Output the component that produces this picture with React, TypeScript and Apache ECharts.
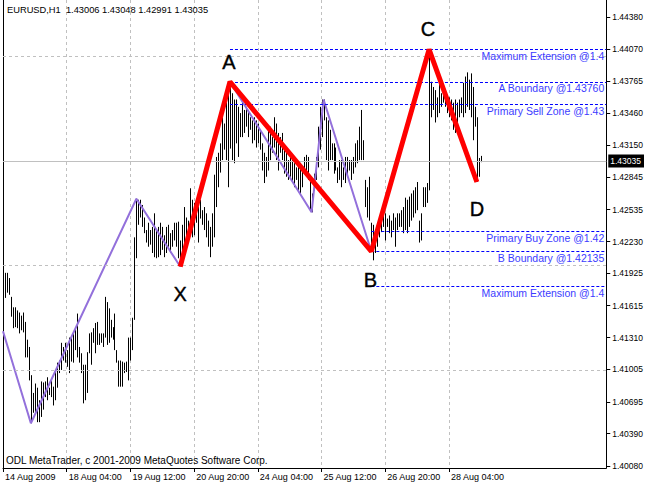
import { useEffect, useRef } from "react";
import * as echarts from "echarts";

// ---- data ----
const headerText = "EURUSD,H1  1.43006 1.43048 1.42991 1.43035";
const copyrightText = "ODL MetaTrader, c 2001-2009 MetaQuotes Software Corp.";

const xLabels = ["14 Aug 2009", "18 Aug 04:00", "19 Aug 12:00", "20 Aug 20:00", "24 Aug 04:00", "25 Aug 12:00", "26 Aug 20:00", "28 Aug 04:00"];
const xLabelBars = [0, 32, 64, 96, 128, 160, 192, 224];

const yTickLabels = ["1.44380", "1.44070", "1.43765", "1.43460", "1.43150", "1.42845", "1.42535", "1.42230", "1.41925", "1.41615", "1.41310", "1.41005", "1.40695", "1.40390", "1.40080"];

const highs = [
  1.4200, 1.4193, 1.4193, 1.4188, 1.4170, 1.4160, 1.4160, 1.4157, 1.4155, 1.4152,
  1.4155, 1.4146, 1.4129, 1.4122, 1.4095, 1.4078, 1.4087, 1.4083, 1.4071, 1.4089,
  1.4088, 1.4089, 1.4093, 1.4083, 1.4090, 1.4084, 1.4100, 1.4107, 1.4109, 1.4126,
  1.4122, 1.4126, 1.4119, 1.4131, 1.4131, 1.4136, 1.4141, 1.4154, 1.4122, 1.4116,
  1.4105, 1.4105, 1.4117, 1.4135, 1.4136, 1.4140, 1.4145, 1.4146, 1.4135, 1.4135,
  1.4135, 1.4170, 1.4165, 1.4159, 1.4148, 1.4141, 1.4154, 1.4119, 1.4109, 1.4109,
  1.4108, 1.4107, 1.4108, 1.4131, 1.4131, 1.4150, 1.4227, 1.4264, 1.4263, 1.4263,
  1.4258, 1.4246, 1.4234, 1.4241, 1.4234, 1.4237, 1.4250, 1.4234, 1.4237, 1.4241,
  1.4237, 1.4229, 1.4237, 1.4239, 1.4231, 1.4234, 1.4241, 1.4241, 1.4242, 1.4224,
  1.4239, 1.4256, 1.4246, 1.4243, 1.4274, 1.4263, 1.4260, 1.4253, 1.4256, 1.4263,
  1.4253, 1.4256, 1.4250, 1.4243, 1.4237, 1.4250, 1.4287, 1.4304, 1.4308, 1.4317,
  1.4342, 1.4336, 1.4356, 1.4365, 1.4376, 1.4365, 1.4359, 1.4359, 1.4352, 1.4346,
  1.4356, 1.4349, 1.4352, 1.4349, 1.4342, 1.4339, 1.4342, 1.4339, 1.4336, 1.4330,
  1.4317, 1.4308, 1.4304, 1.4330, 1.4333, 1.4323, 1.4342, 1.4336, 1.4327, 1.4323,
  1.4327, 1.4313, 1.4308, 1.4301, 1.4304, 1.4301, 1.4298, 1.4294, 1.4298, 1.4294,
  1.4291, 1.4304, 1.4306, 1.4304, 1.4282, 1.4269, 1.4288, 1.4304, 1.4333, 1.4352,
  1.4359, 1.4359, 1.4342, 1.4339, 1.4330, 1.4317, 1.4317, 1.4313, 1.4294, 1.4301,
  1.4301, 1.4294, 1.4304, 1.4304, 1.4301, 1.4301, 1.4304, 1.4317, 1.4320, 1.4333,
  1.4349, 1.4320, 1.4282, 1.4275, 1.4285, 1.4241, 1.4239, 1.4234, 1.4237, 1.4243,
  1.4251, 1.4255, 1.4250, 1.4245, 1.4248, 1.4243, 1.4250, 1.4246, 1.4250, 1.4250,
  1.4253, 1.4256, 1.4265, 1.4263, 1.4266, 1.4269, 1.4272, 1.4275, 1.4280, 1.4243,
  1.4250, 1.4275, 1.4275, 1.4279, 1.4407, 1.4376, 1.4371, 1.4368, 1.4361, 1.4375,
  1.4365, 1.4371, 1.4365, 1.4359, 1.4361, 1.4359, 1.4356, 1.4359, 1.4356, 1.4359,
  1.4361, 1.4375, 1.4381, 1.4385, 1.4378, 1.4384, 1.4371, 1.4352, 1.4342, 1.4303,
  1.4305,
];

const lows = [
  1.4186, 1.4169, 1.4174, 1.4172, 1.4151, 1.4140, 1.4141, 1.4140, 1.4135, 1.4138,
  1.4136, 1.4112, 1.4112, 1.4090, 1.4049, 1.4059, 1.4059, 1.4050, 1.4050, 1.4055,
  1.4062, 1.4074, 1.4071, 1.4076, 1.4074, 1.4066, 1.4071, 1.4083, 1.4097, 1.4100,
  1.4109, 1.4107, 1.4103, 1.4097, 1.4108, 1.4107, 1.4119, 1.4112, 1.4107, 1.4097,
  1.4068, 1.4071, 1.4078, 1.4116, 1.4105, 1.4126, 1.4116, 1.4124, 1.4124, 1.4126,
  1.4122, 1.4131, 1.4124, 1.4126, 1.4131, 1.4129, 1.4119, 1.4107, 1.4084, 1.4084,
  1.4084, 1.4097, 1.4098, 1.4090, 1.4109, 1.4119, 1.4148, 1.4207, 1.4239, 1.4246,
  1.4237, 1.4231, 1.4222, 1.4218, 1.4220, 1.4212, 1.4208, 1.4207, 1.4208, 1.4210,
  1.4215, 1.4208, 1.4212, 1.4218, 1.4212, 1.4218, 1.4224, 1.4218, 1.4207, 1.4199,
  1.4203, 1.4215, 1.4222, 1.4224, 1.4237, 1.4227, 1.4229, 1.4241, 1.4222, 1.4245,
  1.4239, 1.4234, 1.4227, 1.4218, 1.4208, 1.4218, 1.4227, 1.4256, 1.4275, 1.4289,
  1.4301, 1.4311, 1.4301, 1.4275, 1.4312, 1.4301, 1.4298, 1.4317, 1.4304, 1.4323,
  1.4323, 1.4327, 1.4333, 1.4323, 1.4330, 1.4317, 1.4320, 1.4313, 1.4317, 1.4311,
  1.4291, 1.4279, 1.4285, 1.4291, 1.4301, 1.4308, 1.4313, 1.4301, 1.4291, 1.4308,
  1.4301, 1.4288, 1.4285, 1.4282, 1.4285, 1.4279, 1.4275, 1.4282, 1.4272, 1.4269,
  1.4275, 1.4288, 1.4291, 1.4282, 1.4253, 1.4251, 1.4272, 1.4282, 1.4294, 1.4311,
  1.4323, 1.4339, 1.4301, 1.4291, 1.4301, 1.4301, 1.4288, 1.4291, 1.4279, 1.4282,
  1.4275, 1.4282, 1.4279, 1.4285, 1.4291, 1.4282, 1.4288, 1.4294, 1.4298, 1.4301,
  1.4301, 1.4301, 1.4256, 1.4246, 1.4243, 1.4213, 1.4205, 1.4212, 1.4218, 1.4227,
  1.4232, 1.4237, 1.4224, 1.4237, 1.4231, 1.4227, 1.4234, 1.4218, 1.4234, 1.4237,
  1.4237, 1.4231, 1.4234, 1.4231, 1.4237, 1.4243, 1.4246, 1.4250, 1.4253, 1.4222,
  1.4224, 1.4256, 1.4256, 1.4260, 1.4272, 1.4342, 1.4349, 1.4337, 1.4342, 1.4346,
  1.4352, 1.4356, 1.4352, 1.4346, 1.4342, 1.4339, 1.4330, 1.4327, 1.4336, 1.4342,
  1.4346, 1.4342, 1.4346, 1.4352, 1.4349, 1.4342, 1.4320, 1.4333, 1.4280, 1.4285,
  1.4299,
];

// zigzag (purple) pivots: bar index, price
const zigzagBars = [0, 14, 67, 89, 114, 155, 161, 185, 214, 238];
const zigzagPrices = [1.4137, 1.4049, 1.4264, 1.4199, 1.4376, 1.4251, 1.4359, 1.42135, 1.4407, 1.4280];

// XABCD pattern (red)
const patternNames = ["X", "A", "B", "C", "D"];
const patternBars = [89, 114, 185, 214, 238];
const patternPrices = [1.4199, 1.4376, 1.42135, 1.4407, 1.4280];

// level lines
const levelNames = ["Maximum Extension @1.4", "A Boundary @1.43760", "Primary Sell Zone @1.43", "Primary Buy Zone @1.42", "B Boundary @1.42135", "Maximum Extension @1.4"];
const levelPrices = [1.4407, 1.4376, 1.43545, 1.4233, 1.42135, 1.4180];
const levelStartBars = [114, 114, 114, 185, 185, 185];

const currentPrice = 1.43035;
const currentPriceLabel = "1.43035";

export default function App() {
  const ref = useRef<HTMLDivElement>(null);

  useEffect(() => {
    document.body.style.margin = "0";
    const chart = echarts.init(ref.current as HTMLDivElement, null, { renderer: "svg" });
    const font = "'Liberation Sans', Arial, sans-serif";
    const yTicks = yTickLabels.map(Number);
    const yMin = 1.40061;
    const yMax = 1.44543;
    const xMax = 303;
    const barData = highs.map((h, i) => [i, lows[i], h]);

    const letterOffsets = [[0, 27], [-1, -20], [-1, 29], [-1, -20], [0, 27]];

    chart.setOption({
      animation: false,
      backgroundColor: "#ffffff",
      title: [
        {
          text: headerText, left: 7, top: 5, padding: 0,
          textStyle: { fontSize: 9.3, fontWeight: "normal", color: "#000", fontFamily: font },
        },
        {
          text: copyrightText, left: 6, top: 455, padding: 0,
          textStyle: { fontSize: 10, fontWeight: "normal", color: "#000", fontFamily: font },
        },
      ],
      grid: { left: 3, top: 0, width: 606, height: 468, containLabel: false },
      xAxis: {
        type: "value", min: 0, max: xMax, interval: 16,
        axisLine: { show: true, onZero: false, lineStyle: { color: "#000", width: 1 } },
        axisTick: { show: true, customValues: xLabelBars, length: 4, lineStyle: { color: "#000" } },
        axisLabel: {
          customValues: xLabelBars,
          formatter: (v: number) => { const k = xLabelBars.indexOf(Math.round(v)); return k >= 0 ? xLabels[k] : ""; },
          align: "left", margin: 4, fontSize: 9, color: "#000", fontFamily: font, padding: [0, 0, 0, 2],
        },
        splitLine: { show: true, lineStyle: { color: "#c0c0c0", type: [3, 3], width: 1 } },
      },
      yAxis: [
        {
          type: "value", position: "right", min: yMin, max: yMax,
          axisLine: { show: true, onZero: false, lineStyle: { color: "#000", width: 1 } },
          axisTick: { show: true, customValues: yTicks, length: 4, lineStyle: { color: "#000" } },
          axisLabel: {
            customValues: yTicks, margin: 6, fontSize: 8.5, color: "#000", fontFamily: font,
            formatter: (v: number) => {
              let best = 0;
              yTicks.forEach((t, i) => { if (Math.abs(t - v) < Math.abs(yTicks[best] - v)) best = i; });
              return yTickLabels[best];
            },
          },
          splitLine: { show: false },
        },
        {
          type: "value", position: "left", min: yMin, max: yMax,
          axisLine: { show: true, onZero: false, lineStyle: { color: "#000", width: 1 } },
          axisTick: { show: false }, axisLabel: { show: false }, splitLine: { show: false },
        },
      ],
      series: [
        {
          name: "grid", type: "line", data: [], z: 1, silent: true,
          markLine: {
            silent: true, symbol: ["none", "none"], label: { show: false },
            lineStyle: { color: "#c0c0c0", type: [3, 3], width: 1 },
            data: yTicks.map((v) => ({ yAxis: v })),
          },
        },
        {
          name: "price", type: "line", data: [], z: 2, silent: true,
          markLine: {
            silent: true, symbol: ["none", "none"],
            lineStyle: { color: "#c0c0c0", type: "solid", width: 1 },
            label: {
              show: true, position: "end", distance: 2, formatter: currentPriceLabel,
              backgroundColor: "#000", color: "#fff", fontSize: 8.5, fontFamily: font, padding: [2, 3, 2, 2],
            },
            data: [{ yAxis: currentPrice }],
          },
        },
        {
          name: "bars", type: "custom", z: 3, silent: true,
          data: barData,
          renderItem: (_params: any, api: any) => {
            const x = api.value(0);
            const p1 = api.coord([x, api.value(1)]);
            const p2 = api.coord([x, api.value(2)]);
            const px = Math.round(p1[0]) + 0.5;
            return {
              type: "line",
              shape: { x1: px, y1: p1[1], x2: px, y2: p2[1] },
              style: { stroke: "#000", lineWidth: 1 },
            };
          },
        },
        {
          name: "zigzag", type: "line", z: 4, silent: true, symbol: "none",
          data: zigzagBars.map((b, i) => [b, zigzagPrices[i]]),
          lineStyle: { color: "#9370db", width: 2 },
        },
        {
          name: "levels", type: "line", data: [], z: 5, silent: true,
          markLine: {
            silent: true, symbol: ["none", "none"],
            data: levelPrices.map((p, i) => [
              {
                name: levelNames[i], coord: [levelStartBars[i], p],
                lineStyle: { color: "#0000ff", type: [3, 2], width: 1, opacity: 1 },
                label: {
                  show: true, position: "insideEndBottom", formatter: "{b}", distance: [2, 1],
                  color: "#3c3cff", fontSize: 10.5, fontFamily: font,
                },
              },
              { coord: [xMax, p] },
            ]),
          },
        },
        {
          name: "pattern", type: "line", z: 6, silent: true, symbol: "none",
          data: patternBars.map((b, i) => [b, patternPrices[i]]),
          lineStyle: { color: "#ff0000", width: 5 },
        },
        {
          name: "letters", type: "scatter", z: 7, silent: true, symbolSize: 0,
          itemStyle: { opacity: 1 },
          data: patternBars.map((b, i) => ({
            name: patternNames[i], value: [b, patternPrices[i]],
            label: { offset: letterOffsets[i] },
          })),
          label: {
            show: true, position: "inside", formatter: "{b}", fontSize: 20, color: "#000", opacity: 1,
            fontFamily: font, textBorderWidth: 0.4, textBorderColor: "#000",
          },
        },
      ],
    });
    return () => chart.dispose();
  }, []);

  return <div ref={ref} style={{ width: 646, height: 485, position: "absolute", left: 0, top: 0 }} />;
}
